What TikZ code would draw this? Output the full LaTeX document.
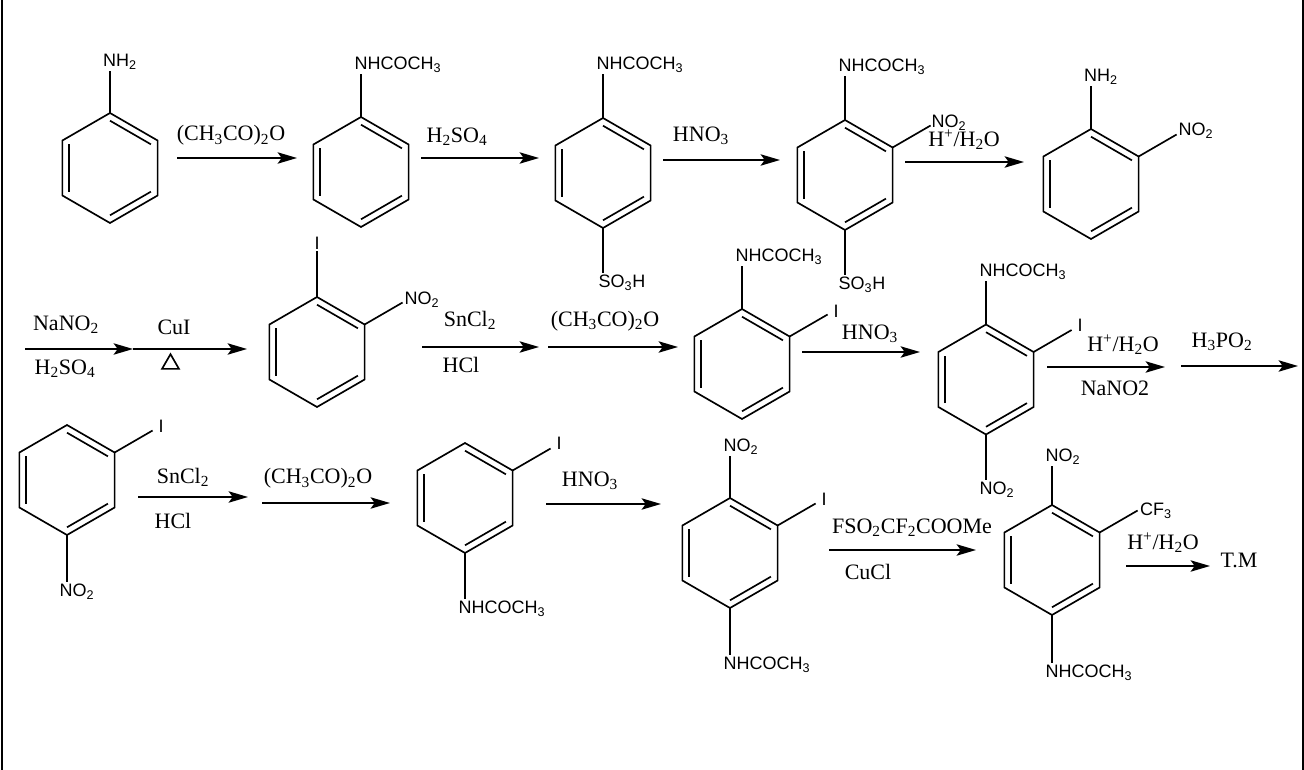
\documentclass[tikz,border=0pt]{standalone}
\usepackage{fontspec}
\setmainfont{Liberation Serif}
\setsansfont{Liberation Sans}
\usetikzlibrary{arrows.meta,calc,shapes.geometric}

\tikzset{
	bond/.style = {line width=1.25pt},
	chem/.style = {font=\sffamily\fontsize{13.5}{15}\selectfont, inner sep=1pt, yshift=-1.2pt},
	reagent/.style = {font=\fontsize{16.5}{18}\selectfont, inner sep=0pt, yshift=-1.2pt},
	rxn/.style = {->, line width=1.4pt},
	frame/.style = {line width=1.4pt}
}

% ring with its six corners named a to f, clockwise from the top; g is the free end of a bond on b
\newcommand{\benzring}[3]{
	\node [coordinate] (#1) at (#2,#3) {};
	\node [coordinate] (#1a) at ($(#1)+(0,-55)$) {};
	\node [coordinate] (#1b) at ($(#1)+(47.6,-27.5)$) {};
	\node [coordinate] (#1c) at ($(#1)+(47.6,27.5)$) {};
	\node [coordinate] (#1d) at ($(#1)+(0,55)$) {};
	\node [coordinate] (#1e) at ($(#1)+(-47.6,27.5)$) {};
	\node [coordinate] (#1f) at ($(#1)+(-47.6,-27.5)$) {};
	\node [coordinate] (#1g) at ($(#1b)+(38,-22)$) {};
	\draw [bond] (#1a) -- (#1b) -- (#1c) -- (#1d) -- (#1e) -- (#1f) -- cycle;
	\draw [bond] ($(#1)!0.86!(#1a)$) -- ($(#1)!0.86!(#1b)$);
	\draw [bond] ($(#1)!0.86!(#1c)$) -- ($(#1)!0.86!(#1d)$);
	\draw [bond] ($(#1)!0.86!(#1e)$) -- ($(#1)!0.86!(#1f)$);
}
\newcommand{\subs}[1]{\textsubscript{#1}}
\newcommand{\acetamide}{NHCOCH\subs{3}}
\newcommand{\nitro}{NO\subs{2}}

\begin{document}
\begin{tikzpicture}[x=0.75pt,y=-0.75pt,>={Stealth[length=14.5pt,width=8.5pt,inset=3pt]}]
	\useasboundingbox (0,0) rectangle (1304,770);
	\fill [white] (0,0) rectangle (1304,770);
	
	\node [coordinate] (ltop) at (2,0) {};
	\node [coordinate] (lbot) at (2,770) {};
	\node [coordinate] (rtop) at (1303,0) {};
	\node [coordinate] (rbot) at (1303,770) {};
	\draw [frame] (ltop) -- (lbot);
	\draw [frame] (rtop) -- (rbot);
	
	% first row
	\benzring{ra}{110}{168}
	\node [chem] (raN) at (120,60) {NH\subs{2}};
	\draw [bond] (raa) -- (raa |- raN.south);
	
	\benzring{rb}{361}{172}
	\node [chem] (rbN) at (398,63) {\acetamide};
	\draw [bond] (rba) -- (rba |- rbN.south);
	
	\benzring{rc}{603}{173}
	\node [chem] (rcN) at (640,63) {\acetamide};
	\node [chem] (rcS) at (622,281) {SO\subs{3}H};
	\draw [bond] (rca) -- (rca |- rcN.south);
	\draw [bond] (rcd) -- (rcd |- rcS.north);
	
	\benzring{rd}{845}{175}
	\node [chem] (rdN) at (882,65) {\acetamide};
	\node [chem] (rdO) at (949,121) {\nitro};
	\node [chem] (rdS) at (862,283) {SO\subs{3}H};
	\draw [bond] (rda) -- (rda |- rdN.south);
	\draw [bond] (rdb) -- (rdg);
	\draw [bond] (rdd) -- (rdd |- rdS.north);
	
	\benzring{re}{1091}{184}
	\node [chem] (reN) at (1101,75) {NH\subs{2}};
	\node [chem] (reO) at (1196,129) {\nitro};
	\draw [bond] (rea) -- (rea |- reN.south);
	\draw [bond] (reb) -- (reg);
	
	% second row
	\benzring{rf}{317}{352}
	\node [chem] (rfI) at (317,242) {I};
	\node [chem] (rfO) at (422,298) {\nitro};
	\draw [bond] (rfa) -- (rfI.south);
	\draw [bond] (rfb) -- (rfg);
	
	\benzring{rg}{742}{364}
	\node [chem] (rgN) at (779,255) {\acetamide};
	\node [chem] (rgI) at (836,310) {I};
	\draw [bond] (rga) -- (rga |- rgN.south);
	\draw [bond] (rgb) -- (rgg);
	
	\benzring{rh}{986}{379.5}
	\node [chem] (rhN) at (1023,270) {\acetamide};
	\node [chem] (rhI) at (1080,324) {I};
	\node [chem] (rhO) at (997,488) {\nitro};
	\draw [bond] (rha) -- (rha |- rhN.south);
	\draw [bond] (rhb) -- (rhg);
	\draw [bond] (rhd) -- (rhd |- rhO.north);
	
	% third row
	\benzring{ri}{67}{480}
	\node [chem] (riI) at (161,425) {I};
	\node [chem] (riO) at (77,590) {\nitro};
	\draw [bond] (rib) -- (rig);
	\draw [bond] (rid) -- (rid |- riO.north);
	
	\benzring{rj}{465}{498}
	\node [chem] (rjI) at (559,442) {I};
	\node [chem] (rjN) at (502,607) {\acetamide};
	\draw [bond] (rjb) -- (rjg);
	\draw [bond] (rjd) -- (rjd |- rjN.north);
	
	\benzring{rk}{730}{553}
	\node [chem] (rkO) at (741,445) {\nitro};
	\node [chem] (rkI) at (824,498) {I};
	\node [chem] (rkN) at (767,663) {\acetamide};
	\draw [bond] (rka) -- (rka |- rkO.south);
	\draw [bond] (rkb) -- (rkg);
	\draw [bond] (rkd) -- (rkd |- rkN.north);
	
	\benzring{rl}{1052}{560}
	\node [chem] (rlO) at (1063,455) {\nitro};
	\node [chem] (rlF) at (1156,509) {CF\subs{3}};
	\node [chem] (rlN) at (1089,671) {\acetamide};
	\draw [bond] (rla) -- (rla |- rlO.south);
	\draw [bond] (rlb) -- (rlg);
	\draw [bond] (rld) -- (rld |- rlN.north);
	
	% reaction arrows, first row
	\node [coordinate] (a1) at (177,158) {};
	\node [coordinate] (b1) at (297,158) {};
	\node [coordinate] (a2) at (421,158) {};
	\node [coordinate] (b2) at (539,158) {};
	\node [coordinate] (a3) at (663,160) {};
	\node [coordinate] (b3) at (780,160) {};
	\node [coordinate] (a4) at (905,162) {};
	\node [coordinate] (b4) at (1024,162) {};
	\draw [rxn] (a1) -- (b1);
	\draw [rxn] (a2) -- (b2);
	\draw [rxn] (a3) -- (b3);
	\draw [rxn] (a4) -- (b4);
	\node [reagent] (t1) at (231,134) {(CH\subs{3}CO)\subs{2}O};
	\node [reagent] (t2) at (457,135) {H\subs{2}SO\subs{4}};
	\node [reagent] (t3) at (701,134) {HNO\subs{3}};
	\node [reagent] (t4) at (964,138) {H\textsuperscript{+}/H\subs{2}O};
	
	% second row
	\node [coordinate] (a5) at (25,349) {};
	\node [coordinate] (b5) at (133,349) {};
	\node [coordinate] (b6) at (247,349) {};
	\node [coordinate] (a7) at (422,347) {};
	\node [coordinate] (b7) at (539,347) {};
	\node [coordinate] (a8) at (548,347) {};
	\node [coordinate] (b8) at (678,347) {};
	\node [coordinate] (a9) at (802,352) {};
	\node [coordinate] (b9) at (920,352) {};
	\node [coordinate] (a10) at (1047,367) {};
	\node [coordinate] (b10) at (1165,367) {};
	\node [coordinate] (a11) at (1181,366) {};
	\node [coordinate] (b11) at (1298,366) {};
	\draw [rxn] (a5) -- (b5);
	\draw [rxn] (b5) -- (b6);
	\draw [rxn] (a7) -- (b7);
	\draw [rxn] (a8) -- (b8);
	\draw [rxn] (a9) -- (b9);
	\draw [rxn] (a10) -- (b10);
	\draw [rxn] (a11) -- (b11);
	\node [reagent] (t5) at (66,323) {NaNO\subs{2}};
	\node [reagent] (t6) at (65,367) {H\subs{2}SO\subs{4}};
	\node [reagent] (t7) at (174,325.5) {CuI};
	\node [draw, line width=1.25pt, regular polygon, regular polygon sides=3, minimum size=14.7pt, inner sep=0pt] (heat) at (170.5,364) {};
	\node [reagent] (t8) at (470,319) {SnCl\subs{2}};
	\node [reagent] (t9) at (461,363.5) {HCl};
	\node [reagent] (t10) at (605,319.5) {(CH\subs{3}CO)\subs{2}O};
	\node [reagent] (t11) at (870,332) {HNO\subs{3}};
	\node [reagent] (t12) at (1123,343) {H\textsuperscript{+}/H\subs{2}O};
	\node [reagent] (t13) at (1115,386.5) {NaNO2};
	\node [reagent] (t14) at (1222,340) {H\subs{3}PO\subs{2}};
	
	% third row
	\node [coordinate] (a12) at (138,497) {};
	\node [coordinate] (b12) at (248,497) {};
	\node [coordinate] (a13) at (262,503) {};
	\node [coordinate] (b13) at (390,503) {};
	\node [coordinate] (a14) at (546,504) {};
	\node [coordinate] (b14) at (661,504) {};
	\node [coordinate] (a15) at (829,550) {};
	\node [coordinate] (b15) at (976,550) {};
	\node [coordinate] (a16) at (1126,566) {};
	\node [coordinate] (b16) at (1210,566) {};
	\draw [rxn] (a12) -- (b12);
	\draw [rxn] (a13) -- (b13);
	\draw [rxn] (a14) -- (b14);
	\draw [rxn] (a15) -- (b15);
	\draw [rxn] (a16) -- (b16);
	\node [reagent] (t15) at (183,476) {SnCl\subs{2}};
	\node [reagent] (t16) at (173,519.5) {HCl};
	\node [reagent] (t17) at (318,477) {(CH\subs{3}CO)\subs{2}O};
	\node [reagent] (t18) at (590,479) {HNO\subs{3}};
	\node [reagent] (t19) at (912,526) {FSO\subs{2}CF\subs{2}COOMe};
	\node [reagent] (t20) at (868,570.5) {CuCl};
	\node [reagent] (t21) at (1163,541) {H\textsuperscript{+}/H\subs{2}O};
	\node [reagent] (t22) at (1239,559) {T.M};
\end{tikzpicture}
\end{document}
